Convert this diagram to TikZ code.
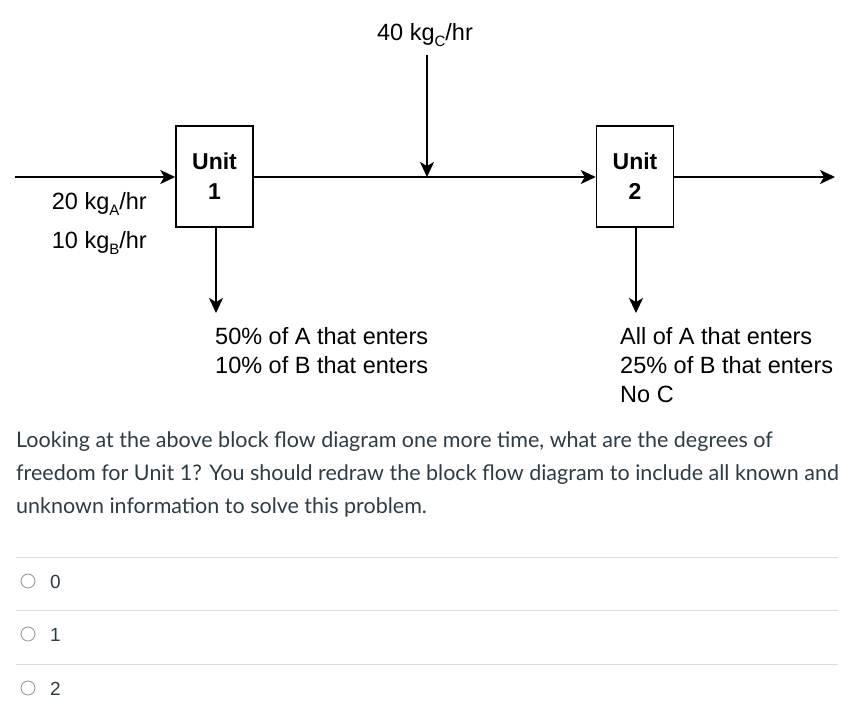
\documentclass[tikz,border=0pt]{standalone}
\usepackage{fontspec}
\setmainfont{Liberation Sans}
\newfontfamily\latofont{Lato}
\usetikzlibrary{arrows.meta}

\definecolor{questtext}{HTML}{2D3B45}
\definecolor{rulegray}{HTML}{DDDDDD}

% lowered subscript in text
\newcommand{\subsc}[1]{\raisebox{-0.55ex}{\fontsize{15}{15}\selectfont #1}}

\tikzset{
  unitbox/.style={draw, line width=1.5pt, minimum width=77pt, minimum height=101pt,
    align=center, font=\fontsize{23}{30}\selectfont\bfseries},
  flow/.style={line width=1.6pt, -{Stealth[length=15pt,width=14pt,inset=4pt]}},
  note/.style={align=left, inner sep=0pt, font=\fontsize{23.5}{29}\selectfont},
  quest/.style={align=left, inner sep=0pt, text=questtext, font=\latofont\fontsize{21.5}{33}\selectfont},
  radio/.style={draw=gray!80, line width=0.9pt, circle, minimum size=14pt, inner sep=0pt},
  choice/.style={anchor=base west, inner sep=0pt, text=questtext, font=\fontsize{19}{22}\selectfont},
}

\begin{document}
\begin{tikzpicture}[x=1pt,y=-1pt]
    \useasboundingbox (0,0) rectangle (862,716);

    % units
    \node[unitbox] (u1) at (214.5,176.5) {Unit\\1};
    \node[unitbox] (u2) at (635,176.5) {Unit\\2};

    % stream ends
    \coordinate (feedin) at (15,177);
    \coordinate (prodout) at (835,177);
    \coordinate (mix) at (427,177);
    \coordinate (bot1) at (216,313);
    \coordinate (bot2) at (636,313);

    % main line
    \draw[flow] (feedin) -- (u1.west |- feedin);
    \draw[flow] (u1.east |- mix) -- (u2.west |- mix);
    \draw[flow] (u2.east |- prodout) -- (prodout);

    % C stream from the top
    \node[note, anchor=base] (cfeed) at (425,40) {40 kg\subsc{C}/hr};
    \draw[flow] (mix |- 0,55) coordinate (ctop) -- (mix);

    % feed labels
    \node[note, align=right, anchor=base east, font=\fontsize{23.5}{39}\selectfont] (feed) at (147,248) {20 kg\subsc{A}/hr\\10 kg\subsc{B}/hr};

    % bottom streams
    \draw[flow] (u1.south -| bot1) -- (bot1);
    \draw[flow] (u2.south -| bot2) -- (bot2);
    \node[note, anchor=base west] (split1) at (215,373) {50\% of A that enters\\10\% of B that enters};
    \node[note, anchor=base west] (split2) at (620,402) {All of A that enters\\25\% of B that enters\\No C};

    % question
    \node[quest, anchor=base west] (quest) at (16,513) {Looking at the above block flow diagram one more time, what are the degrees of\\freedom for Unit 1? You should redraw the block flow diagram to include all known and\\unknown information to solve this problem.};

    % answers
    \foreach \y/\v [count=\i] in {557/0, 610/1, 664/2} {
        \draw[rulegray, line width=1pt] (16,\y) -- (838,\y);
        \node[radio] (r\i) at (28,\y+24) {};
        \node[choice] (c\i) at (50,\y+31) {\v};
    }

\end{tikzpicture}
\end{document}
